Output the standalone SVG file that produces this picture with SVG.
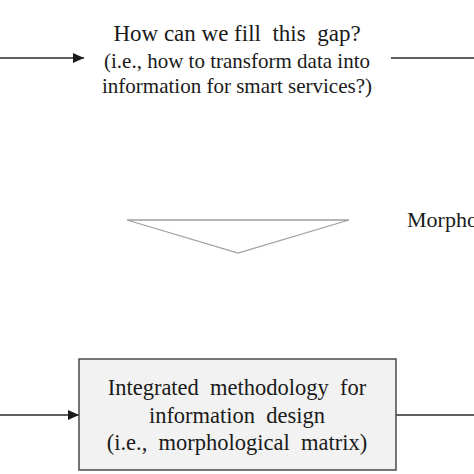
<svg xmlns="http://www.w3.org/2000/svg" width="474" height="474" viewBox="0 0 474 474">
<style>
text{font-family:"Liberation Serif","Times New Roman",serif;fill:#1a1a1a;white-space:pre;}
.t{font-size:21px;text-anchor:middle;}
.h{font-size:23px;text-anchor:middle;}
.b{font-size:22.5px;text-anchor:middle;}
.ln{stroke:#2a2a2a;stroke-width:1.5;fill:none;}
</style>
<defs>
<marker id="ah" markerWidth="11" markerHeight="10" refX="11" refY="5" orient="auto" markerUnits="userSpaceOnUse">
<path d="M0,0 L11,5 L0,10 Z" fill="#1a1a1a"/>
</marker>
</defs>
<rect width="474" height="474" fill="#ffffff"/>
<g id="connectors">
<line class="ln" x1="0" y1="58" x2="84" y2="58" marker-end="url(#ah)"/>
<line class="ln" x1="391" y1="58" x2="474" y2="58"/>
<line class="ln" x1="0" y1="415" x2="79" y2="415" marker-end="url(#ah)"/>
<line class="ln" x1="396" y1="415" x2="474" y2="415"/>
</g>
<g id="gap-question">
<text class="h" x="237" y="41" xml:space="preserve">How can we fill  this  gap?</text>
<text class="t" x="237" y="68">(i.e., how to transform data into</text>
<text class="t" x="237" y="93">information for smart services?)</text>
</g>
<g id="down-triangle">
<polygon points="127,220 349,220 238,253" fill="#ffffff" stroke="#a0a0a0" stroke-width="1.3"/>
</g>
<g id="morpho-label">
<text x="407" y="227" font-size="22">Morpho</text>
</g>
<g id="methodology">
<rect x="79" y="359" width="317" height="111" fill="#f2f2f2" stroke="#4a4a4a" stroke-width="1.5"/>
<text class="b" x="237" y="395" xml:space="preserve">Integrated  methodology  for</text>
<text class="b" x="237" y="423" xml:space="preserve">information  design</text>
<text class="b" x="237" y="450" xml:space="preserve">(i.e.,  morphological  matrix)</text>
</g>
</svg>
